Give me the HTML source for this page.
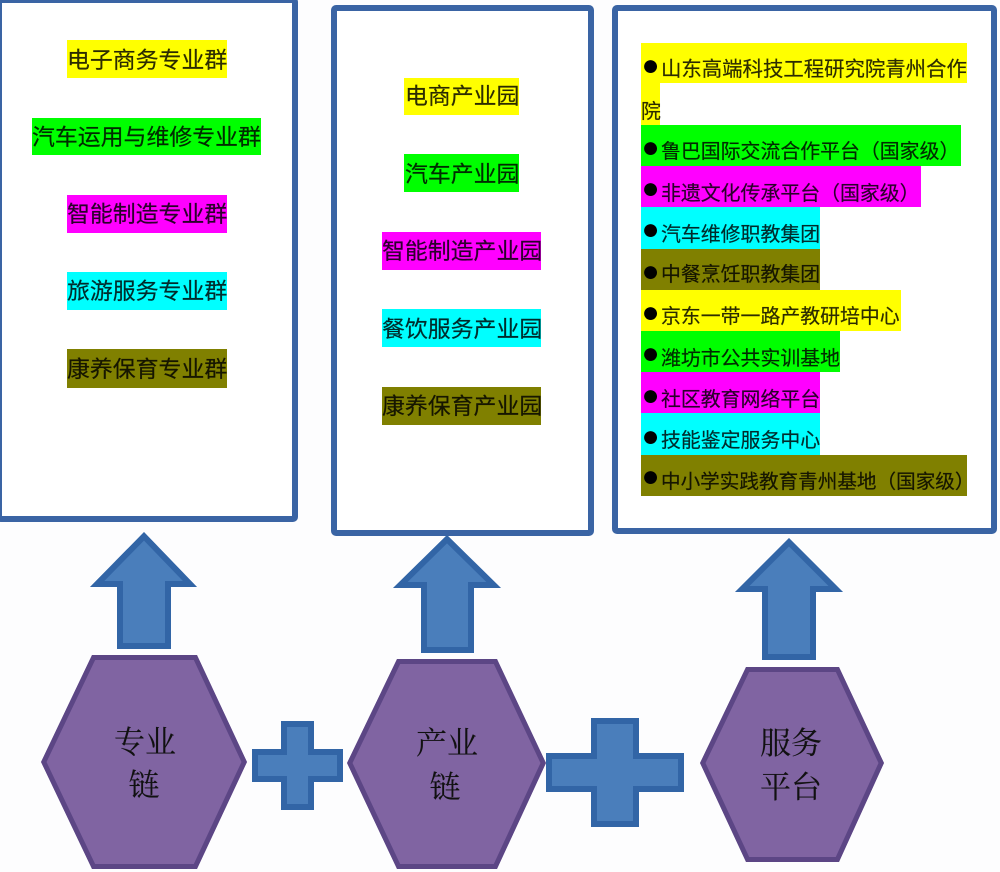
<!DOCTYPE html>
<html lang="zh">
<head>
<meta charset="utf-8">
<title>专业链 产业链 服务平台</title>
<style>
html,body{margin:0;padding:0;background:#fdfdfe;}
svg{display:block;}
.s{font-family:"Liberation Sans","Noto Sans CJK SC",sans-serif;fill:#000;fill-opacity:.82;stroke:#000;stroke-opacity:.45;stroke-width:.35;}
.a{font-size:22.9px;}
.b{font-size:19.9px;}
.h{font-family:"Liberation Serif","Noto Serif CJK SC",serif;font-size:31px;fill:#111;text-anchor:middle;stroke:#111;stroke-opacity:.4;stroke-width:.3;}
.box{fill:#fff;stroke:#3a64a4;stroke-width:6;}
.ar{fill:#4a7ebb;stroke:#3265a6;stroke-width:12;}
.hx{fill:#8064a2;stroke:#5c4685;stroke-width:10;}
.d{font-family:"Liberation Sans","Noto Sans CJK SC",sans-serif;font-size:30px;fill:#000;text-anchor:middle;}
</style>
</head>
<body>
<svg width="1000" height="872" viewBox="0 0 1000 872" xmlns="http://www.w3.org/2000/svg">
<defs>
<filter id="soft" x="-2%" y="-2%" width="104%" height="104%"><feGaussianBlur stdDeviation="0.35"/></filter>
<clipPath id="c1"><polygon points="144,532 197,587 171,587 171,649 117,649 117,587 90,587"/></clipPath>
<clipPath id="c2"><polygon points="447,535 501,588 474,588 474,653 421,653 421,588 393,588"/></clipPath>
<clipPath id="c3"><polygon points="789,538 843,592 816,592 816,660 762,660 762,592 735,592"/></clipPath>
<clipPath id="h1"><polygon points="92,655 197,655 247,762 197,869 92,869 41,762"/></clipPath>
<clipPath id="h2"><polygon points="397,659 497,659 546,763 497,869 397,869 347,763"/></clipPath>
<clipPath id="h3"><polygon points="746,667 839,667 884,763 839,862 746,862 700,763"/></clipPath>
<clipPath id="p1"><polygon points="281,721 314,721 314,749 343,749 343,782 314,782 314,810 281,810 281,782 252,782 252,749 281,749"/></clipPath>
<clipPath id="p2"><polygon points="591,718 639,718 639,753 684,753 684,792 639,792 639,827 591,827 591,792 546,792 546,753 591,753"/></clipPath>
</defs>
<rect width="1000" height="872" fill="#fdfdfe"/>

<rect class="box" x="-1" y="0" width="296" height="519" rx="2"/>
<rect class="box" x="334" y="8" width="257" height="525" rx="2"/>
<rect class="box" x="615" y="8" width="379" height="523" rx="2"/>

<g filter="url(#soft)">
<rect x="67" y="40" width="160" height="38" fill="#ffff00"/>
<rect x="32" y="118" width="229" height="37" fill="#00ff00"/>
<rect x="67" y="195" width="160" height="38" fill="#ff00ff"/>
<rect x="67" y="272" width="160" height="38" fill="#00ffff"/>
<rect x="67" y="349" width="160" height="39" fill="#808000"/>
<text class="s a" x="67" y="68">电子商务专业群</text>
<text class="s a" x="32" y="145">汽车运用与维修专业群</text>
<text class="s a" x="67" y="222">智能制造专业群</text>
<text class="s a" x="67" y="299">旅游服务专业群</text>
<text class="s a" x="67" y="377">康养保育专业群</text>

<rect x="404" y="78" width="115" height="37" fill="#ffff00"/>
<rect x="404" y="154" width="115" height="38" fill="#00ff00"/>
<rect x="382" y="232" width="159" height="38" fill="#ff00ff"/>
<rect x="382" y="309" width="159" height="38" fill="#00ffff"/>
<rect x="382" y="387" width="159" height="38" fill="#808000"/>
<text class="s a" x="405" y="104">电商产业园</text>
<text class="s a" x="405" y="182">汽车产业园</text>
<text class="s a" x="382" y="259">智能制造产业园</text>
<text class="s a" x="382" y="337">餐饮服务产业园</text>
<text class="s a" x="382" y="414">康养保育产业园</text>

<rect x="641" y="43" width="326" height="40" fill="#ffff00"/>
<rect x="641" y="83" width="19" height="42" fill="#ffff00"/>
<rect x="641" y="125" width="320" height="41" fill="#00ff00"/>
<rect x="641" y="166" width="280" height="41" fill="#ff00ff"/>
<rect x="641" y="207" width="179" height="42" fill="#00ffff"/>
<rect x="641" y="249" width="179" height="41" fill="#808000"/>
<rect x="641" y="290" width="260" height="41" fill="#ffff00"/>
<rect x="641" y="331" width="199" height="41" fill="#00ff00"/>
<rect x="641" y="372" width="179" height="41" fill="#ff00ff"/>
<rect x="641" y="413" width="179" height="42" fill="#00ffff"/>
<rect x="641" y="455" width="326" height="41" fill="#808000"/>

<text class="d" x="650.5" y="75">●</text>
<text class="d" x="650.5" y="157">●</text>
<text class="d" x="650.5" y="198">●</text>
<text class="d" x="650.5" y="239">●</text>
<text class="d" x="650.5" y="281">●</text>
<text class="d" x="650.5" y="322">●</text>
<text class="d" x="650.5" y="363">●</text>
<text class="d" x="650.5" y="405">●</text>
<text class="d" x="650.5" y="446">●</text>
<text class="d" x="650.5" y="486">●</text>

<text class="s b" x="661" y="76" style="font-size:20.4px">山东高端科技工程研究院青州合作</text>
<text class="s b" x="641" y="118">院</text>
<text class="s b" x="661" y="158">鲁巴国际交流合作平台（国家级）</text>
<text class="s b" x="661" y="200">非遗文化传承平台（国家级）</text>
<text class="s b" x="661" y="241">汽车维修职教集团</text>
<text class="s b" x="661" y="281">中餐烹饪职教集团</text>
<text class="s b" x="661" y="323">京东一带一路产教研培中心</text>
<text class="s b" x="661" y="365">潍坊市公共实训基地</text>
<text class="s b" x="661" y="406">社区教育网络平台</text>
<text class="s b" x="661" y="447">技能鉴定服务中心</text>
<text class="s b" x="661" y="488" style="font-size:19.6px">中小学实践教育青州基地（国家级）</text>
</g>

<polygon class="ar" clip-path="url(#c1)" points="144,532 197,587 171,587 171,649 117,649 117,587 90,587"/>
<polygon class="ar" clip-path="url(#c2)" points="447,535 501,588 474,588 474,653 421,653 421,588 393,588"/>
<polygon class="ar" clip-path="url(#c3)" points="789,538 843,592 816,592 816,660 762,660 762,592 735,592"/>

<polygon class="hx" clip-path="url(#h1)" points="92,655 197,655 247,762 197,869 92,869 41,762"/>
<polygon class="hx" clip-path="url(#h2)" points="397,659 497,659 546,763 497,869 397,869 347,763"/>
<polygon class="hx" clip-path="url(#h3)" points="746,667 839,667 884,763 839,862 746,862 700,763"/>

<polygon class="ar" clip-path="url(#p1)" points="281,721 314,721 314,749 343,749 343,782 314,782 314,810 281,810 281,782 252,782 252,749 281,749"/>
<polygon class="ar" clip-path="url(#p2)" points="591,718 639,718 639,753 684,753 684,792 639,792 639,827 591,827 591,792 546,792 546,753 591,753"/>

<text class="h" x="145" y="753">专业</text>
<text class="h" x="144" y="796">链</text>
<text class="h" x="447" y="754">产业</text>
<text class="h" x="445" y="798">链</text>
<text class="h" x="791" y="754">服务</text>
<text class="h" x="791" y="798">平台</text>
</svg>
</body>
</html>
